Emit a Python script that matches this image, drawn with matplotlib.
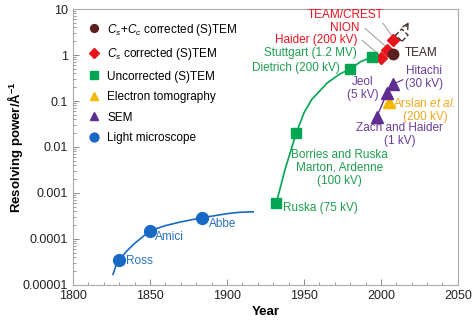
from matplotlib import pyplot as plt
from matplotlib.ticker import FixedLocator, MultipleLocator, NullFormatter

plt.rcParams['font.family'] = ['Liberation Sans', 'DejaVu Sans']
plt.rcParams['mathtext.fontset'] = 'custom'
plt.rcParams['mathtext.rm'] = 'Liberation Sans'
plt.rcParams['mathtext.it'] = 'Liberation Sans:italic'
plt.rcParams['mathtext.bf'] = 'Liberation Sans:bold'

# light microscope
lm_years = [1830, 1850, 1884]
lm_power = [3.5e-5, 1.5e-4, 2.9e-4]
lm_names = ['Ross', 'Amici', 'Abbe']
lm_fit_years = [1826, 1828, 1830, 1835, 1840, 1850, 1860, 1870, 1884, 1900, 1908, 1917]
lm_fit_power = [1.7e-5, 2.7e-5, 3.5e-5, 5.5e-5, 8e-5, 1.5e-4, 1.95e-4, 2.35e-4,
                2.9e-4, 3.55e-4, 3.8e-4, 3.9e-4]

# uncorrected TEM
tem_years = [1932, 1945, 1980, 1994]
tem_power = [6e-4, 0.02, 0.5, 0.9]
tem_fit_years = [1932, 1938, 1945, 1950, 1955, 1965, 1973, 1980, 1987, 1994]
tem_fit_power = [6e-4, 3.5e-3, 0.02, 0.055, 0.107, 0.245, 0.38, 0.5, 0.72, 0.9]

# aberration corrected
cs_years = [2000, 2004, 2008]
cs_power = [0.87, 1.3, 2.1]
cscc_years = [2008]
cscc_power = [1.05]
future_year = [2013.6]
future_power = [2.7]

# SEM and tomography
sem_years = [1997.4, 2004, 2008]
sem_power = [0.046, 0.15, 0.23]
tomo_years = [2005.2]
tomo_power = [0.095]

c_brown = '#5c1f1f'
c_red = '#e8141c'
c_green = '#00a651'
c_yellow = '#f5b800'
c_purple = '#5f2d91'
c_blue = '#1769c4'
t_green = '#1f9e4f'
t_purple = '#6a3d9a'
t_yellow = '#f0a81c'
t_blue = '#2b6fc2'

fig = plt.figure(figsize=(4.74, 3.22), dpi=100)
ax = fig.add_axes([0.154, 0.115, 0.812, 0.857])
ax.set_yscale('log')

# fitted curves
ax.plot(lm_fit_years, lm_fit_power, color=c_blue, lw=1.2, zorder=2)
ax.plot(tem_fit_years, tem_fit_power, color=c_green, lw=1.2, zorder=2)
ax.plot(sem_years, sem_power, color=c_purple, lw=1.0, zorder=2)

# points
ax.plot(cscc_years, cscc_power, 'o', color=c_brown, ms=7.5, ls='none', zorder=4,
        label=r'$C_s\!+\!C_c$ corrected (S)TEM')
ax.plot(cs_years, cs_power, 'D', color=c_red, ms=6.5, ls='none', zorder=3,
        label=r'$C_s$ corrected (S)TEM')
ax.plot(tem_years, tem_power, 's', color=c_green, ms=7.5, ls='none', zorder=3,
        label='Uncorrected (S)TEM')
ax.plot(tomo_years, tomo_power, '^', color=c_yellow, ms=8, ls='none', zorder=3,
        label='Electron tomography')
ax.plot(sem_years, sem_power, '^', color=c_purple, ms=8, ls='none', zorder=3,
        label='SEM')
ax.plot(lm_years, lm_power, 'o', color=c_blue, ms=8.5, ls='none', zorder=3,
        label='Light microscope')

# next generation, dashed
ax.scatter(future_year, future_power, marker='D', s=40, facecolors='none',
           edgecolors='#4a3030', linewidths=1.0, linestyles='--', zorder=3)
ax.annotate('', xy=(2019, 5.9), xytext=(2015.6, 3.7),
            arrowprops=dict(arrowstyle='->', color='#4a3030', lw=1.0, ls='--'))

# leader lines
lead = dict(color='#999999', lw=0.7, zorder=1)
ax.plot([2001.3, 2008], [4.9, 2.4], **lead)
ax.plot([1989.6, 2003.5], [3.8, 1.5], **lead)
ax.plot([1987.7, 1999], [2.1, 1.0], **lead)
ax.plot([2010, 2014.3], [0.25, 0.29], color=c_purple, lw=0.8, zorder=1)

fs = 8.5
ax.text(1977, 7.3, 'TEAM/CREST', color=c_red, fontsize=fs, ha='center', va='center')
ax.text(1976.5, 3.8, 'NION', color=c_red, fontsize=fs, ha='center', va='center')
ax.text(1958, 2.1, 'Haider (200 kV)', color=c_red, fontsize=fs, ha='center', va='center')
ax.text(1954, 1.1, 'Stuttgart (1.2 MV)', color=t_green, fontsize=fs, ha='center', va='center')
ax.text(1945, 0.52, 'Dietrich (200 kV)', color=t_green, fontsize=fs, ha='center', va='center')
ax.text(2015.6, 1.1, 'TEAM', color='#3a2626', fontsize=fs, ha='left', va='center')
ax.text(2028, 0.33, 'Hitachi\n(30 kV)', color=t_purple, fontsize=fs, ha='center',
        va='center', linespacing=1.1)
ax.text(1988, 0.19, 'Jeol\n(5 kV)', color=t_purple, fontsize=fs, ha='center',
        va='center', linespacing=1.1)
ax.text(2028.6, 0.065, 'Arslan $\\it{et\\ al.}$\n(200 kV)', color=t_yellow, fontsize=fs,
        ha='center', va='center', linespacing=1.1)
ax.text(2012, 0.019, 'Zach and Haider\n(1 kV)', color=t_purple, fontsize=fs,
        ha='center', va='center', linespacing=1.1)
ax.text(1973, 0.0035, 'Borries and Ruska\nMarton, Ardenne\n(100 kV)', color=t_green,
        fontsize=fs, ha='center', va='center', linespacing=1.1)
ax.text(1936.4, 4.6e-4, 'Ruska (75 kV)', color=t_green, fontsize=fs, ha='left', va='center')

lm_label_pos = [(1834.4, 3.3e-5), (1853, 1.1e-4), (1888, 2.1e-4)]
for name, (x, y) in zip(lm_names, lm_label_pos):
    ax.text(x, y, name, color=t_blue, fontsize=fs, ha='left', va='center')

# axes
ax.set_xlim(1800, 2050)
ax.set_ylim(1e-5, 10)
ax.set_xticks([1800, 1850, 1900, 1950, 2000, 2050])
ax.xaxis.set_minor_locator(MultipleLocator(10))
yticks = [1e-5, 1e-4, 1e-3, 1e-2, 0.1, 1, 10]
ax.yaxis.set_major_locator(FixedLocator(yticks))
ax.set_yticklabels(['0.00001', '0.0001', '0.001', '0.01', '0.1', '1', '10'])
ax.yaxis.set_minor_formatter(NullFormatter())
ax.tick_params(which='both', direction='in', colors='#888888', labelcolor='#222222',
               labelsize=9, top=False, right=False)
ax.tick_params(which='major', length=4, width=0.7)
ax.tick_params(which='minor', length=2.5, width=0.6)
for s in ax.spines.values():
    s.set_color('#aaaaaa')
    s.set_linewidth(0.8)

ax.set_xlabel('Year', fontsize=9.5, fontweight='bold', labelpad=3)
ax.set_ylabel('Resolving power/Å$^{\\mathbf{-1}}$', fontsize=9.5, fontweight='bold')
ax.yaxis.set_label_coords(-0.125, 0.5)

ax.legend(loc='upper left', bbox_to_anchor=(0.025, 0.98), frameon=False, fontsize=fs,
          handlelength=0.8, handletextpad=0.7, labelspacing=0.72, borderaxespad=0.2,
          markerscale=0.75, numpoints=1)

plt.savefig('out.png', dpi=100)
